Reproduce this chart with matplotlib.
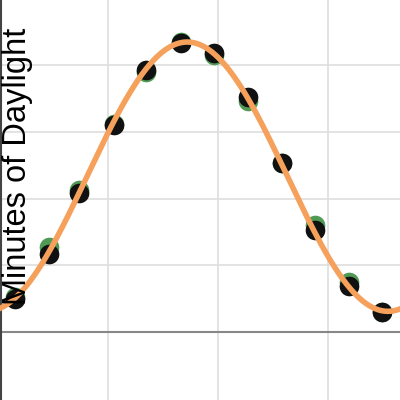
import numpy as np
import matplotlib
matplotlib.use("Agg")
import matplotlib.pyplot as plt

days = [15, 46, 74, 105, 135, 166, 196, 227, 258, 288, 319, 349]
observed_a = [552, 627, 713, 812, 890, 935, 915, 846, 753, 660, 575, 530]  # green
observed_b = [549, 617, 708, 810, 893, 933, 918, 852, 753, 653, 569, 530]  # black
fit_mid, fit_amp, fit_period, fit_min_day = 733, 202, 365, -10.5

fig = plt.figure(figsize=(4, 4), dpi=100)
ax = fig.add_axes([0, 0, 1, 1])
ax.set_xlim(1.8, 365.5)
ax.set_ylim(398, 998)
for xv in [100, 200, 300]:
    ax.axvline(xv, color="#dedede", lw=1.2, zorder=0)
for yv in [600, 700, 800, 900]:
    ax.axhline(yv, color="#dedede", lw=1.2, zorder=0)
ax.axhline(500, color="#888888", lw=1.5, zorder=1)
ax.axvline(2.5, color="#444444", lw=1.5, zorder=1)
for s in ax.spines.values():
    s.set_visible(False)
ax.set_xticks([]); ax.set_yticks([])

ax.scatter(days, observed_a, s=200, color="#4f9a55", zorder=2, linewidths=0)
ax.scatter(days, observed_b, s=200, color="#111111", zorder=3, linewidths=0)
xs = np.linspace(0, 370, 400)
ys = fit_mid - fit_amp * np.cos(2 * np.pi * (xs - fit_min_day) / fit_period)
ax.plot(xs, ys, color="#f5a15c", lw=4, zorder=4, solid_capstyle="round")

ax.text(0.045, 0.585, "Minutes of Daylight", transform=ax.transAxes, rotation=90,
        fontsize=23.5, family="Liberation Sans", ha="center", va="center", zorder=5)
fig.savefig("out.png", dpi=100)
